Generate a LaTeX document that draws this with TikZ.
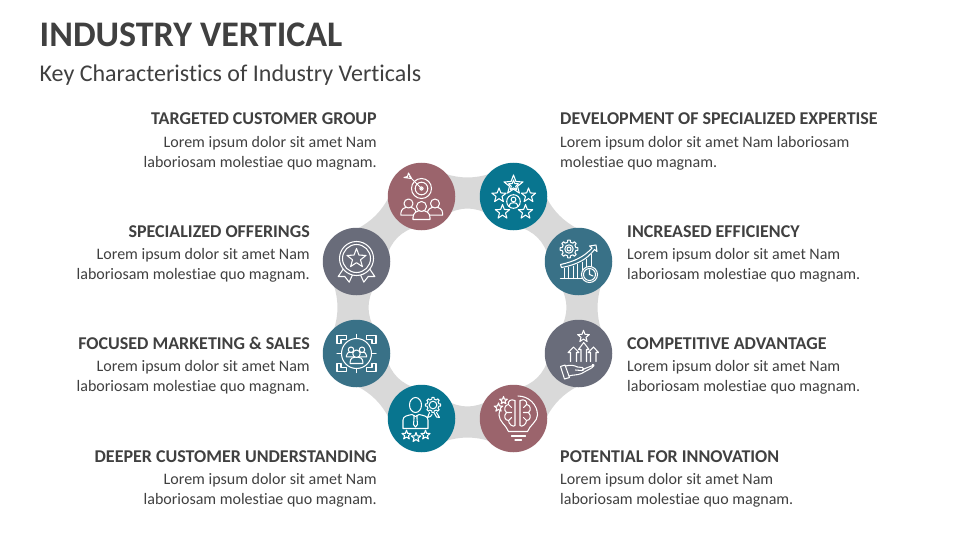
\documentclass[tikz,border=0pt]{standalone}
\usepackage{fontspec}
\setmainfont{Carlito}[Ligatures=NoCommon]
\definecolor{rose}{RGB}{155,100,108}
\definecolor{slate}{RGB}{105,108,122}
\definecolor{teal1}{RGB}{8,117,143}
\definecolor{blue1}{RGB}{57,113,135}
\definecolor{neck}{RGB}{217,217,217}
\definecolor{ink}{RGB}{64,64,64}
\colorlet{cf}{rose}
\tikzset{
  disc/.style={circle,inner sep=0pt,minimum size=67.5pt},
  ic/.style={draw=white,line width=1.05pt,line join=round,line cap=round},
  icf/.style={ic,fill=cf},
  heading/.style={inner sep=0pt,text=ink,font=\bfseries\fontsize{18}{22}\selectfont},
  bodytext/.style={inner sep=0pt,text=ink,font=\fontsize{16}{19.6}\selectfont},
}
\newcommand{\wstar}[3]{\draw[icf,shift={(#1,#2)},scale=#3] (-90:1)--(-54:.42)--(-18:1)--(18:.42)--(54:1)--(90:.42)--(126:1)--(162:.42)--(198:1)--(234:.42)--cycle;}
\newcommand{\wperson}[3]{\begin{scope}[shift={(#1,#2)},scale=#3]
  \draw[icf] (-8.5,8)--(-8.5,6) .. controls (-8.5,1) and (-4,-1) .. (0,-1) .. controls (4,-1) and (8.5,1) .. (8.5,6)--(8.5,8)--cycle;
  \draw[icf] (0,-5) circle (5);
\end{scope}}
\newcommand{\wgear}[3]{\draw[icf,shift={(#1,#2)},scale=#3] (-12:1) \foreach \a in {0,45,...,315}{ -- (\a-12:1) -- (\a-8:1.28) -- (\a+8:1.28) -- (\a+12:1) } -- cycle;}
\newcommand{\txtblock}[7]{%
  \node[heading,anchor=base #1] (#2h) at (#3,#4) {#5};
  \node[bodytext,anchor=north #1,align=#6] (#2b) at (#3,#4+11.4) {#7};}
\begin{document}
\begin{tikzpicture}[x=1pt,y=-1pt]
\useasboundingbox (0,0) rectangle (960,540);
\fill[white] (0,0) rectangle (960,540);
\node[anchor=base west,inner sep=0pt,text=ink,font=\bfseries\fontsize{36}{40}\selectfont] (title) at (39.5,46.3) {INDUSTRY VERTICAL};
\node[anchor=base west,inner sep=0pt,text=ink,font=\fontsize{24}{28}\selectfont] (subtitle) at (39.5,81.5) {Key Characteristics of Industry Verticals};

% ring of necks
\foreach \r in {0,45,...,315}{
  \fill[neck,shift={(467.5,307.5)},rotate=\r]
    (133.5,22) .. controls (128.9,7) and (128.9,-7) .. (133.5,-22)
    -- (92.6,-22) .. controls (101.1,-7) and (101.1,7) .. (92.6,22) -- cycle;
}
% discs
\node[disc,fill=rose]  (d1) at (421.5,196.5) {};
\node[disc,fill=teal1] (d2) at (513.5,196.5) {};
\node[disc,fill=blue1] (d3) at (578.5,261.5) {};
\node[disc,fill=slate] (d4) at (578.5,353.5) {};
\node[disc,fill=rose]  (d5) at (513.5,418.5) {};
\node[disc,fill=teal1] (d6) at (421.5,418.5) {};
\node[disc,fill=blue1] (d7) at (356.5,353.5) {};
\node[disc,fill=slate] (d8) at (356.5,261.5) {};

% icon 1: target and people
\begin{scope}[shift={(421.5,196.5)}]
\colorlet{cf}{rose}
\draw[ic] (0,-8) circle (10) (0,-8) circle (6.3) (0,-8) circle (1.8);
\draw[ic] (0,-8) -- (-12,-20);
\draw[ic] (-10,-18) -- (-13,-23.5) -- (-14,-20) -- (-17.5,-19) -- cycle;
\wperson{-13}{11.5}{.9}
\wperson{13.5}{11.5}{.9}
\wperson{0}{15}{1}
\end{scope}

% icon 2: stars and person
\begin{scope}[shift={(513.5,196.5)}]
\colorlet{cf}{teal1}
\wstar{0}{-11.5}{10}
\wstar{0}{-11}{5.5}
\wstar{-14.5}{-1}{7.5}
\wstar{15}{-1}{7.5}
\wstar{-11}{15.5}{7.5}
\wstar{12}{15.5}{7.5}
\draw[icf] (0,5) circle (6.8);
\draw[ic] (0,3) circle (2.4);
\draw[ic] (-4.2,10) .. controls (-4,6.5) and (-2,6.2) .. (0,6.2) .. controls (2,6.2) and (4,6.5) .. (4.2,10);
\end{scope}

% icon 3: gear, growth chart, clock
\begin{scope}[shift={(578.5,261.5)}]
\colorlet{cf}{blue1}
\wgear{-9.5}{-12.5}{7}
\draw[ic] (-9.5,-12.5) circle (4.2) (-9.5,-12.5) circle (2);
\draw[ic] (-18,3) -- (-17,6) .. controls (0,3) and (9,-3) .. (16,-12) -- (18.5,-10) -- (17.5,-16.5) -- (11,-15.5) -- (13.5,-13.5) .. controls (6,-5) and (-4,0) .. (-18,3);
\draw[ic] (-18,17) -- (4,17);
\draw[ic] (-14,7) -- (-14,17) (-10,6) -- (-10,17) (-5,5) -- (-5,17) (-1,3) -- (-1,17) (4,1) -- (4,12) (8,-2) -- (8,8) (13,-7) -- (13,8);
\draw[icf] (11,13) circle (8);
\draw[ic] (11,13) circle (6);
\draw[ic] (11,8.5) -- (11,13) -- (14.5,14.5);
\end{scope}

% icon 4: star, arrows, hand
\begin{scope}[shift={(578.5,353.5)}]
\colorlet{cf}{slate}
\wstar{5}{-17}{6.2}
\draw[ic] (-8,8) -- (-8,-1) -- (-10.5,-1) -- (-5,-6.5) -- (0.5,-1) -- (-2,-1) -- (-2,8);
\draw[ic] (2.5,8) -- (2.5,-4) -- (0,-4) -- (5.2,-11) -- (10.5,-4) -- (8,-4) -- (8,8);
\draw[ic] (12,8) -- (12,-1) -- (9.5,-1) -- (15,-6.5) -- (20,-1) -- (17.5,-1) -- (17.5,8);
\draw[ic] (-18,13) -- (-13.5,11.5) -- (-9,24) -- (-14,25.5) -- cycle;
\draw[ic] (-13,12.5) .. controls (-8,11) and (-4,12) .. (-1,13.5) -- (4,14) .. controls (6,14.5) and (6,17) .. (3,17) -- (-3,16.5)
  (4,16) -- (13,12.5) .. controls (16,11) and (15,11) .. (14,11) (14,11) .. controls (17,11) and (15,13) .. (13,14.5) -- (3,20) .. controls (-2,22) and (-5,21) .. (-9.5,22.5);
\end{scope}

% icon 5: brain bulb
\begin{scope}[shift={(513.5,418.5)}]
\colorlet{cf}{rose}
\draw[ic] (4.5,-22.5) .. controls (15,-22.5) and (24,-14) .. (24,-3.5) .. controls (24,3) and (16,7) .. (14,13) -- (-5,13) .. controls (-7,7) and (-14.5,3) .. (-14.5,-3.5) .. controls (-14.5,-5) and (-14,-7) .. (-13.5,-8);
\draw[ic] (1.5,-18) .. controls (-3,-20) and (-6,-17) .. (-5,-14) .. controls (-9,-14) and (-10,-8) .. (-7,-6) .. controls (-10,-3) and (-9,2) .. (-5,2) .. controls (-5,6) and (0,9) .. (1.5,7) -- cycle;
\draw[ic] (6.5,-18) .. controls (11,-20) and (14,-17) .. (13,-14) .. controls (17,-14) and (18,-8) .. (15,-6) .. controls (18,-3) and (17,2) .. (13,2) .. controls (13,6) and (8,9) .. (6.5,7) -- cycle;
\draw[ic] (-7,-6) -- (-2,-6) (-5,-14) -- (-2,-11) (-5,2) -- (-2,-1) (15,-6) -- (10,-6) (13,-14) -- (10,-11) (13,2) -- (10,-1);
\draw[ic] (-2,17.5) -- (12,17.5) (1.5,21.5) -- (8,21.5);
\wstar{-15}{-11}{4.5}
\wstar{-10}{-18}{4}
\end{scope}

% icon 6: person, medal, stars
\begin{scope}[shift={(421.5,418.5)}]
\colorlet{cf}{teal1}
\draw[ic] (-6,-13.5) ellipse (6 and 7.5);
\draw[ic] (-18.5,10) -- (-18.5,1.5) .. controls (-18.5,-2.5) and (-14,-3) .. (-9.5,-4) -- (-6,-2) -- (-2.5,-4) .. controls (2,-3) and (6.5,-2.5) .. (6.5,1.5) -- (6.5,10) -- cycle;
\draw[ic] (-7.5,-3) -- (-7.5,0) -- (-8,6) -- (-6,8.5) -- (-4,6) -- (-4.5,0) -- (-4.5,-3);
\wgear{11.5}{-13.5}{6}
\draw[ic] (11.5,-13.5) circle (3.8);
\draw[ic] (8,-6) -- (6,-1) -- (9,-2) -- (10.5,-4) (15,-6) -- (18,-1) -- (15,-1.5) -- (13,-5);
\wstar{-15}{16.5}{4.8}
\wstar{-5.5}{19}{5}
\wstar{4}{16.5}{4.8}
\end{scope}

% icon 7: focus on people
\begin{scope}[shift={(356.5,353.5)}]
\colorlet{cf}{blue1}
\draw[ic] (0,0) circle (15);
\draw[ic] (-19.5,0) -- (-15,0) (15,0) -- (19.5,0) (0,-19) -- (0,-15) (0,15) -- (0,19);
\foreach \sx/\sy in {1/1,-1/1,1/-1,-1/-1}{
  \draw[ic,xscale=\sx,yscale=\sy] (-19.5,-10) -- (-19.5,-18) -- (-10,-18) -- (-10,-14) -- (-15.5,-14) -- (-15.5,-10) -- cycle;
}
\wperson{-5.5}{-1}{.55}
\wperson{5.5}{-1}{.55}
\wperson{0}{4}{.75}
\end{scope}

% icon 8: medal
\begin{scope}[shift={(356.5,261.5)}]
\colorlet{cf}{slate}
\draw[ic] (-12.7,6.7) -- (-18.3,15) -- (-11.7,15) -- (-7.3,20.7) -- (-3.3,11.7);
\draw[ic] (12.7,6.7) -- (18.3,15) -- (11.7,15) -- (7.3,20.7) -- (3.3,11.7);
\draw[icf] (0,-3) circle (17);
\draw[ic] (0,-3) circle (14);
\wstar{0}{-3}{10}
\end{scope}

% text
\newcommand{\ltwo}{Lorem ipsum dolor sit amet Nam\\laboriosam molestiae quo magnam.}
\txtblock{east}{a}{377}{125}{TARGETED CUSTOMER GROUP}{right}{\ltwo}
\txtblock{east}{b}{310}{237}{SPECIALIZED OFFERINGS}{right}{\ltwo}
\txtblock{east}{c}{310}{349}{FOCUSED MARKETING \& SALES}{right}{\ltwo}
\txtblock{east}{d}{377}{462}{DEEPER CUSTOMER UNDERSTANDING}{right}{\ltwo}
\txtblock{west}{e}{560}{125}{DEVELOPMENT OF SPECIALIZED EXPERTISE}{left}{Lorem ipsum dolor sit amet Nam laboriosam\\molestiae quo magnam.}
\txtblock{west}{f}{627}{237}{INCREASED EFFICIENCY}{left}{\ltwo}
\txtblock{west}{g}{627}{349}{COMPETITIVE ADVANTAGE}{left}{\ltwo}
\txtblock{west}{h}{560}{462}{POTENTIAL FOR INNOVATION}{left}{\ltwo}
\end{tikzpicture}
\end{document}
